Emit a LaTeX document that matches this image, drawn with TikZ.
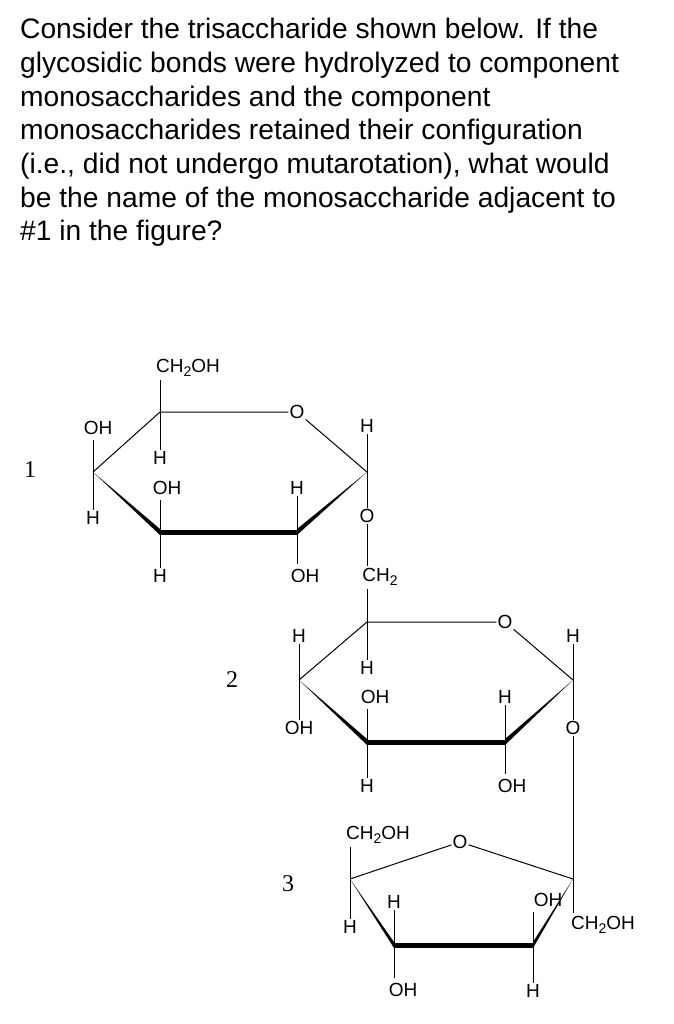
\documentclass[tikz,border=0pt]{standalone}
\usepackage{fontspec}
\setmainfont{Liberation Sans}
\newfontfamily\serifnum{Liberation Serif}
\usetikzlibrary{calc}
\newcommand{\sbtwo}{\raisebox{-0.35ex}{\fontsize{14}{14}\selectfont 2}}
\begin{document}
\begin{tikzpicture}[x=1pt,y=-1pt,
  lab/.style={font=\fontsize{19}{19}\selectfont,inner sep=1pt},
  num/.style={font=\serifnum\fontsize{24}{24}\selectfont,inner sep=0pt},
  bond/.style={line width=1pt},
  heavy/.style={line width=5pt}]
\useasboundingbox (0,0) rectangle (673,1024);
\node[anchor=north west,align=left,inner sep=0pt,font=\fontsize{28.2}{33.7}\selectfont] (q) at (20,18)
{Consider the trisaccharide shown below. If the\\glycosidic bonds were hydrolyzed to component\\monosaccharides and the component\\monosaccharides retained their configuration\\(i.e., did not undergo mutarotation), what would\\be the name of the monosaccharide adjacent to\\\#1 in the figure?};
\node[num] (n1) at (30,470) {1};
\node[num] (n2) at (232,680) {2};
\node[num] (n3) at (288,884) {3};
% ---------- ring 1 ----------
\coordinate (a5) at (160,412); \coordinate (a1) at (367,472);
\coordinate (a4) at (93,472); \coordinate (a3) at (160,532); \coordinate (a2) at (297,532);
\node[lab] (aO) at (297,412) {O};
\node[lab] (a5u) at (188,368) {CH\sbtwo OH};
\node[lab] (a5d) at (160,458) {H};
\node[lab] (a1u) at (367,426) {H};
\node[lab] (glyO1) at (367,516) {O};
\node[lab] (ch2) at (380,577) {CH\sbtwo};
\node[lab] (a4u) at (98,428) {OH};
\node[lab] (a4d) at (93,518) {H};
\node[lab] (a3u) at (167,488) {OH};
\node[lab] (a3d) at (160,576) {H};
\node[lab] (a2u) at (297,488) {H};
\node[lab] (a2d) at (305,576) {OH};
\draw[bond] (a4) -- (a5) -- (aO) -- (a1);
\draw[bond] (a5) -- (160,380); \draw[bond] (a5) -- (a5d);
\draw[bond] (a1) -- (a1u); \draw[bond] (a1) -- (glyO1);
\draw[bond] (glyO1) -- (367,566);
\draw[bond] (a4) -- (93,440); \draw[bond] (a4) -- (a4d);
\draw[bond] (a3) -- (160,500); \draw[bond] (a3) -- (a3d);
\draw[bond] (a2) -- (a2u); \draw[bond] (a2) -- (297,564);
\fill (a4) -- ($(a3)+(0,-3)$) -- ($(a3)+(0,3)$) -- cycle;
\draw[heavy] (a3) -- (a2);
\fill (a1) -- ($(a2)+(0,-3)$) -- ($(a2)+(0,3)$) -- cycle;
% ---------- ring 2 ----------
\coordinate (b5) at (367,622); \coordinate (b1) at (573,680);
\coordinate (b4) at (299,680); \coordinate (b3) at (367,742); \coordinate (b2) at (505,742);
\node[lab] (bO) at (505,622) {O};
\node[lab] (b5d) at (367,668) {H};
\node[lab] (b1u) at (573,636) {H};
\node[lab] (glyO2) at (573,728) {O};
\node[lab] (b4u) at (299,636) {H};
\node[lab] (b4d) at (299,728) {OH};
\node[lab] (b3u) at (375,697) {OH};
\node[lab] (b3d) at (367,786) {H};
\node[lab] (b2u) at (505,697) {H};
\node[lab] (b2d) at (512,786) {OH};
\draw[bond] (367,589) -- (b5);
\draw[bond] (b4) -- (b5) -- (bO) -- (b1);
\draw[bond] (b5) -- (b5d);
\draw[bond] (b1) -- (b1u); \draw[bond] (b1) -- (glyO2);
\draw[bond] (b4) -- (b4u); \draw[bond] (b4) -- (b4d);
\draw[bond] (b3) -- (367,709); \draw[bond] (b3) -- (b3d);
\draw[bond] (b2) -- (b2u); \draw[bond] (b2) -- (505,774);
\fill (b4) -- ($(b3)+(0,-3)$) -- ($(b3)+(0,3)$) -- cycle;
\draw[heavy] (b3) -- (b2);
\fill (b1) -- ($(b2)+(0,-3)$) -- ($(b2)+(0,3)$) -- cycle;
% ---------- ring 3 ----------
\coordinate (c5) at (350,879); \coordinate (c2) at (573,879);
\coordinate (c4) at (394,945); \coordinate (c3) at (533,945);
\node[lab] (cO) at (460,842) {O};
\node[lab] (c5u) at (378,835) {CH\sbtwo OH};
\node[lab] (c5d) at (350,927) {H};
\node[lab] (c2d) at (603,925) {CH\sbtwo OH};
\node[lab] (c4u) at (394,902) {H};
\node[lab] (c4d) at (403,990) {OH};
\node[lab] (c3u) at (548,900) {OH};
\node[lab] (c3d) at (533,991) {H};
\draw[bond] (glyO2) -- (c2);
\draw[bond] (c5) -- (cO) -- (c2);
\draw[bond] (c5) -- (350,847); \draw[bond] (c5) -- (c5d);
\draw[bond] (c2) -- (573,913);
\draw[bond] (c4) -- (c4u); \draw[bond] (c4) -- (394,978);
\draw[bond] (c3) -- (533,912); \draw[bond] (c3) -- (c3d);
\fill (c5) -- ($(c4)+(0,-3)$) -- ($(c4)+(0,3)$) -- cycle;
\draw[heavy] (c4) -- (c3);
\fill (c2) -- ($(c3)+(0,-3)$) -- ($(c3)+(0,3)$) -- cycle;
\end{tikzpicture}
\end{document}
